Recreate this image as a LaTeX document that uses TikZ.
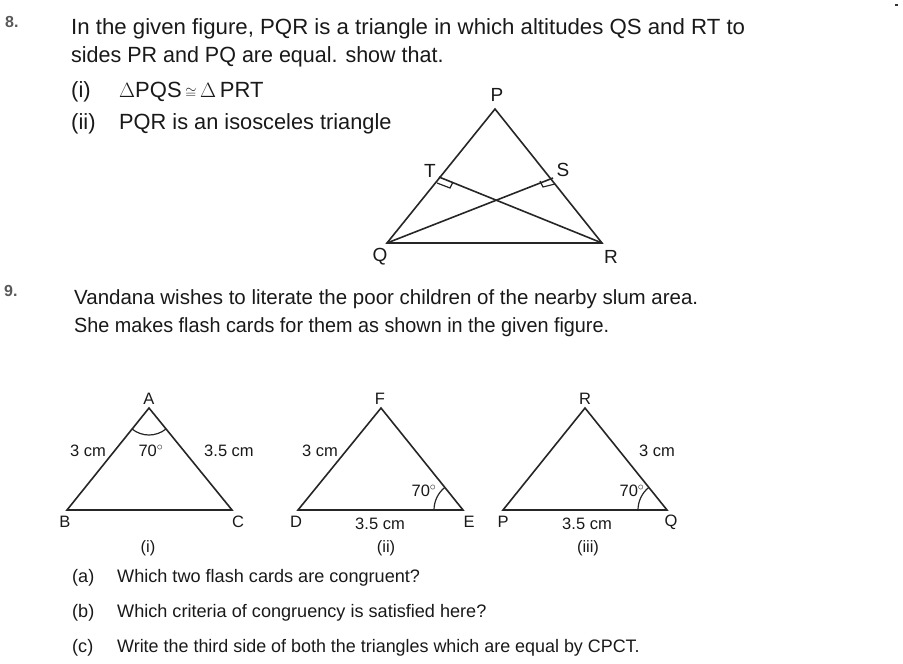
\documentclass[tikz,border=0pt]{standalone}
\usepackage{fontspec}
\setmainfont{Liberation Sans}
\usetikzlibrary{positioning}
\begin{document}
\begin{tikzpicture}[x=1pt,y=-1pt,
line/.style={anchor=west, inner sep=0pt, font=\fontsize{22}{24}\selectfont, text=black!90},
low/.style={line, font=\fontsize{18.1}{20}\selectfont},
num/.style={anchor=west, inner sep=0pt, font=\fontsize{16}{18}\selectfont\bfseries, text=black!65},
big/.style={inner sep=0pt, font=\fontsize{19}{20}\selectfont, text=black!90},
small/.style={inner sep=0pt, font=\fontsize{16.5}{18}\selectfont, text=black!90},
edge/.style={draw=black!85, line width=1.6pt},
thin edge/.style={draw=black!85, line width=1.2pt},
]
\useasboundingbox (0,0) rectangle (903,664);
\fill[black!80] (895,4) rectangle (898,6);
\node[num](no8) at (5,22){8.};
\node[line](t1) at (71,29){\scalebox{1.01}[1]{In the given figure, PQR is a triangle in which altitudes QS and RT to}};
\node[line](t2) at (71,57){\scalebox{.977}[1]{sides PR and PQ are equal. show that.}};
\node[line](t3) at (71,92){(i)};
\node[line](t4) at (119,92){$\Delta$PQS\,{\fontsize{15}{15}\selectfont$\cong$}\,$\Delta$\,PRT};
\node[line](t5) at (71,124){(ii)};
\node[line](t6) at (119,124){\scalebox{.99}[1]{PQR is an isosceles triangle}};
\node[num](no9) at (4,291){9.};
\node[line,font=\fontsize{20.5}{24}\selectfont](t7) at (74,299){Vandana wishes to literate the poor children of the nearby slum area.};
\node[line,font=\fontsize{20.5}{24}\selectfont](t8) at (74,327){\scalebox{.966}[1]{She makes flash cards for them as shown in the given figure.}};
\node[low](t9) at (72,578){(a)};
\node[low](t10) at (117,578){Which two flash cards are congruent?};
\node[low](t11) at (72,613){(b)};
\node[low](t12) at (117,613){Which criteria of congruency is satisfied here?};
\node[low](t13) at (72,648){(c)};
\node[low](t14) at (117,648){\scalebox{.99}[1]{Write the third side of both the triangles which are equal by CPCT.}};
% first figure
\coordinate (P) at (495,109);
\coordinate (Q) at (387,243);
\coordinate (R) at (602,243);
\coordinate (T) at (439,177);
\coordinate (S) at (553,178);
\node[big](lP) at (497,95){P};
\node[big](lQ) at (380,257){Q};
\node[big](lR) at (611,257){R};
\node[big](lT) at (430,171){T};
\node[big](lS) at (563,170){S};
\draw[edge] (P) -- (Q) -- (R) -- cycle;
\draw[edge] (Q) -- (S);
\draw[edge] (R) -- (T);
\draw[thin edge] (437,183) -- (450,188) -- (453,182);
\draw[thin edge] (540,181) -- (543,187) -- (555,184);
% flash cards
\coordinate (A) at (149,408);
\coordinate (B) at (67,510);
\coordinate (C) at (232,510);
\coordinate (F) at (381,408);
\coordinate (D) at (298,510);
\coordinate (E) at (463,510);
\coordinate (R2) at (585,408);
\coordinate (P2) at (503,510);
\coordinate (Q2) at (667,510);
\draw[edge] (A) -- (B) -- (C) -- cycle;
\draw[edge] (F) -- (D) -- (E) -- cycle;
\draw[edge] (R2) -- (P2) -- (Q2) -- cycle;
\draw[thin edge] (A) ++(128.8:27) arc[start angle=128.8, end angle=51.2, radius=27];
\draw[thin edge] (E) ++(180:29) arc[start angle=180, end angle=231.2, radius=29];
\draw[thin edge] (Q2) ++(180:29) arc[start angle=180, end angle=231.2, radius=29];
\node[small](lA) at (149,399){A};
\node[small](lB) at (65,522){B};
\node[small](lC) at (238,522){C};
\node[small](lF) at (380,399){F};
\node[small](lD) at (296,522){D};
\node[small](lE) at (469,522){E};
\node[small](lP2) at (503,522){P};
\node[small](lR2) at (585,399){R};
\node[small](lQ2) at (671,522){Q};
\node[small](a1) at (88,451){3 cm};
\node[small](a2) at (151,451){70$^\circ$};
\node[small](a3) at (229,451){3.5 cm};
\node[small](b1) at (320,451){3 cm};
\node[small](b2) at (424,491){70$^\circ$};
\node[small](b3) at (380,524){3.5 cm};
\node[small](c1) at (657,451){3 cm};
\node[small](c2) at (632,491){70$^\circ$};
\node[small](c3) at (587,524){3.5 cm};
\node[small](n1) at (148,548){(i)};
\node[small](n2) at (386,548){(ii)};
\node[small](n3) at (588,548){(iii)};
\end{tikzpicture}
\end{document}
